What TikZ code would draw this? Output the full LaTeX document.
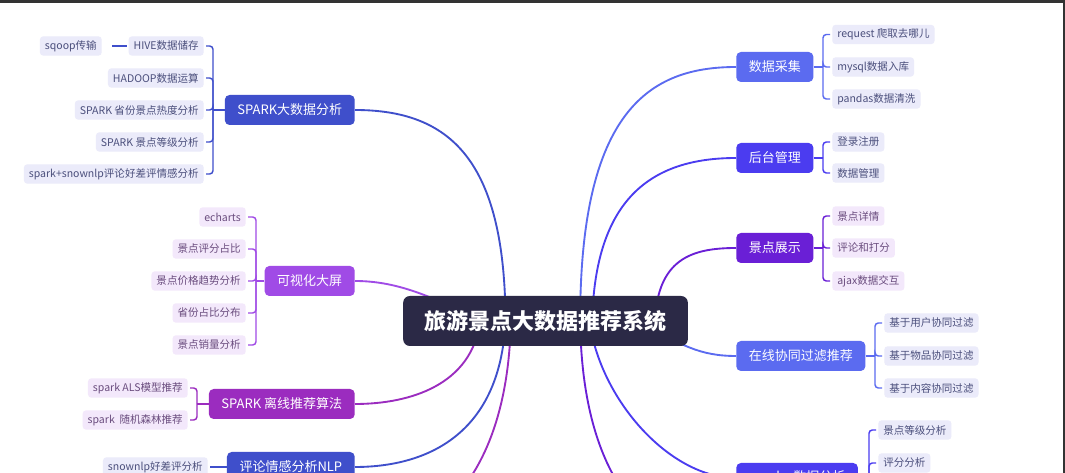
\documentclass[tikz,border=0pt]{standalone}
\usepackage{fontspec}
\setmainfont{Noto Sans CJK SC}
\definecolor{cbfill}{HTML}{EBEBFA}
\definecolor{cbtext}{HTML}{4B4F7C}
\definecolor{cpfill}{HTML}{F3E8FB}
\definecolor{cptext}{HTML}{6A4C7E}
\definecolor{cblue}{HTML}{3F4FCB}
\definecolor{clblue}{HTML}{5B6BF0}
\definecolor{cindigo}{HTML}{4B3CF0}
\definecolor{cviolet}{HTML}{6A1FD6}
\definecolor{cpurple}{HTML}{A04BE6}
\definecolor{cmagenta}{HTML}{9B2CBF}
\definecolor{ccenter}{HTML}{2B2946}
\definecolor{cbar}{HTML}{333333}
\pgfdeclarelayer{bg}
\pgfsetlayers{bg,main}
\tikzset{
  leafbox/.style={font=\fontsize{7.9}{9.5}\selectfont, inner xsep=3.75pt, inner ysep=0pt, minimum height=14.5pt, rounded corners=2.5pt},
  lb/.style={leafbox, fill=cbfill, text=cbtext},
  lp/.style={leafbox, fill=cpfill, text=cptext},
  branch/.style={font=\fontsize{9.75}{11}\selectfont, text=white, inner xsep=9.4pt, inner ysep=0pt, minimum height=22.5pt, rounded corners=3.5pt},
  conn/.style={draw=#1, line width=1.1pt, rounded corners=2.5pt},
  curve/.style={draw=#1, line width=1.4pt},
}
\begin{document}
\begin{tikzpicture}[x=0.75pt,y=-0.75pt]
\useasboundingbox (0,0) rectangle (1065,473);
\begin{pgfonlayer}{bg}
\fill[white] (0,0) rectangle (1065,473);
\end{pgfonlayer}
\clip (0,0) rectangle (1065,473);

% central
\node[fill=ccenter, text=white, font=\fontsize{16.5}{19}\selectfont\bfseries, inner xsep=16pt, inner ysep=0pt, minimum height=37.5pt, rounded corners=5pt] (c) at (545.5,321) {旅游景点大数据推荐系统};

% left branches
\node[branch, fill=cblue, anchor=east] (s1) at (355,110) {SPARK大数据分析};
\node[branch, fill=cpurple, anchor=east] (v) at (355,281) {可视化大屏};
\node[branch, fill=cmagenta, anchor=east] (o) at (355,404) {SPARK 离线推荐算法};
\node[branch, fill=cblue, anchor=east] (n) at (355,467) {评论情感分析NLP};

% right branches
\node[branch, fill=clblue, anchor=west] (d) at (736,67) {数据采集};
\node[branch, fill=cindigo, anchor=west] (b) at (736,158) {后台管理};
\node[branch, fill=cviolet, anchor=west] (z) at (736,248) {景点展示};
\node[branch, fill=clblue, anchor=west] (w) at (736,356) {在线协同过滤推荐};
\node[branch, fill=cindigo, anchor=west] (r) at (736,478) {pandas数据分析};

% left leaves
\node[lb, anchor=east] (s1a) at (204,46) {HIVE数据储存};
\node[lb, anchor=east] (s1b) at (204,78) {HADOOP数据运算};
\node[lb, anchor=east] (s1c) at (204,110) {SPARK 省份景点热度分析};
\node[lb, anchor=east] (s1d) at (204,142) {SPARK 景点等级分析};
\node[lb, anchor=east] (s1e) at (204,174) {spark+snownlp评论好差评情感分析};
\node[lb, anchor=east] (sq) at (102,46) {sqoop传输};

\node[lp, anchor=east] (va) at (246,217) {echarts};
\node[lp, anchor=east] (vb) at (246,249) {景点评分占比};
\node[lp, anchor=east] (vc) at (246,281) {景点价格趋势分析};
\node[lp, anchor=east] (vd) at (246,313) {省份占比分布};
\node[lp, anchor=east] (ve) at (246,345) {景点销量分析};

\node[lp, anchor=east] (oa) at (188,388) {spark ALS模型推荐};
\node[lp, anchor=east] (ob) at (188,420) {spark\ \ 随机森林推荐};

\node[lb, anchor=east] (na) at (208,467) {snownlp好差评分析};

% right leaves
\node[lb, anchor=west] (da) at (832,34.5) {request 爬取去哪儿};
\node[lb, anchor=west] (db) at (832,67) {mysql数据入库};
\node[lb, anchor=west] (dc) at (832,99) {pandas数据清洗};

\node[lb, anchor=west] (ba) at (832,142) {登录注册};
\node[lb, anchor=west] (bb) at (832,173) {数据管理};

\node[lp, anchor=west] (za) at (832,216) {景点详情};
\node[lp, anchor=west] (zb) at (832,248) {评论和打分};
\node[lp, anchor=west] (zc) at (832,281) {ajax数据交互};

\node[lb, anchor=west] (wa) at (884,323) {基于用户协同过滤};
\node[lb, anchor=west] (wb) at (884,356) {基于物品协同过滤};
\node[lb, anchor=west] (wc) at (884,388) {基于内容协同过滤};

\node[lb, anchor=west] (ra) at (878,430) {景点等级分析};
\node[lb, anchor=west] (rb) at (878,463) {评分分析};

% junction coordinates
\coordinate (s1j) at (213,110);
\coordinate (vj) at (256,281);
\coordinate (oj) at (197,404);
\coordinate (dj) at (823,67);
\coordinate (bj) at (823,158);
\coordinate (zj) at (823,248);
\coordinate (wj) at (875,356);
\coordinate (rj) at (869,478);
\coordinate (offL) at (355,545);
\coordinate (offR) at (736,560);

% brackets left
\draw[conn=cblue] (s1.west) -- (s1j);
\foreach \k in {s1a,s1b,s1c,s1d,s1e} \draw[conn=cblue] (s1j) |- ([xshift=1.5pt]\k.east);
\draw[conn=cblue] ([xshift=-1pt]s1a.west) -- ([xshift=7.5pt]sq.east);
\draw[conn=cpurple] (v.west) -- (vj);
\foreach \k in {va,vb,vc,vd,ve} \draw[conn=cpurple] (vj) |- ([xshift=1.5pt]\k.east);
\draw[conn=cmagenta] (o.west) -- (oj);
\foreach \k in {oa,ob} \draw[conn=cmagenta] (oj) |- ([xshift=1.5pt]\k.east);
\draw[conn=cblue] (n.west) -- ([xshift=1.5pt]na.east);

% brackets right
\draw[conn=clblue] (d.east) -- (dj);
\foreach \k in {da,db,dc} \draw[conn=clblue] (dj) |- ([xshift=-1.5pt]\k.west);
\draw[conn=cindigo] (b.east) -- (bj);
\foreach \k in {ba,bb} \draw[conn=cindigo] (bj) |- ([xshift=-1.5pt]\k.west);
\draw[conn=cviolet] (z.east) -- (zj);
\foreach \k in {za,zb,zc} \draw[conn=cviolet] (zj) |- ([xshift=-1.5pt]\k.west);
\draw[conn=clblue] (w.east) -- (wj);
\foreach \k in {wa,wb,wc} \draw[conn=clblue] (wj) |- ([xshift=-1.5pt]\k.west);
\draw[conn=cindigo] (r.east) -- (rj);
\foreach \k in {ra,rb} \draw[conn=cindigo] (rj) |- ([xshift=-1.5pt]\k.west);

% main curves behind central node
\begin{pgfonlayer}{bg}
\draw[curve=cblue] ([xshift=-30pt]c.center) .. controls (505,160) and (450,110) .. (s1.east);
\draw[curve=cpurple] ([xshift=-49pt]c.center) .. controls (430,295) and (395,281) .. (v.east);
\draw[curve=cmagenta] ([xshift=-49pt]c.center) .. controls (472,385) and (410,404) .. (o.east);
\draw[curve=cblue] ([xshift=-30pt]c.center) .. controls (500,440) and (420,467) .. (n.east);
\draw[curve=cmagenta] ([xshift=-26pt]c.center) .. controls (508,470) and (440,540) .. (offL);
\draw[curve=clblue] ([xshift=26pt]c.center) .. controls (580,110) and (650,67) .. (d.west);
\draw[curve=cindigo] ([xshift=35pt]c.center) .. controls (595,200) and (650,158) .. (b.west);
\draw[curve=cviolet] ([xshift=82pt]c.center) .. controls (658,260) and (690,248) .. (z.west);
\draw[curve=clblue] ([xshift=71pt]c.center) .. controls (680,345) and (700,356) .. (w.west);
\draw[curve=cindigo] ([xshift=33pt]c.center) .. controls (600,400) and (670,478) .. (r.west);
\draw[curve=cviolet] ([xshift=26pt]c.center) .. controls (582,470) and (640,545) .. (offR);
\end{pgfonlayer}

% window edges
\fill[cbar] (0,0) rectangle (1065,3.5);
\fill[cbar] (1063,0) rectangle (1065,473);
\end{tikzpicture}
\end{document}
